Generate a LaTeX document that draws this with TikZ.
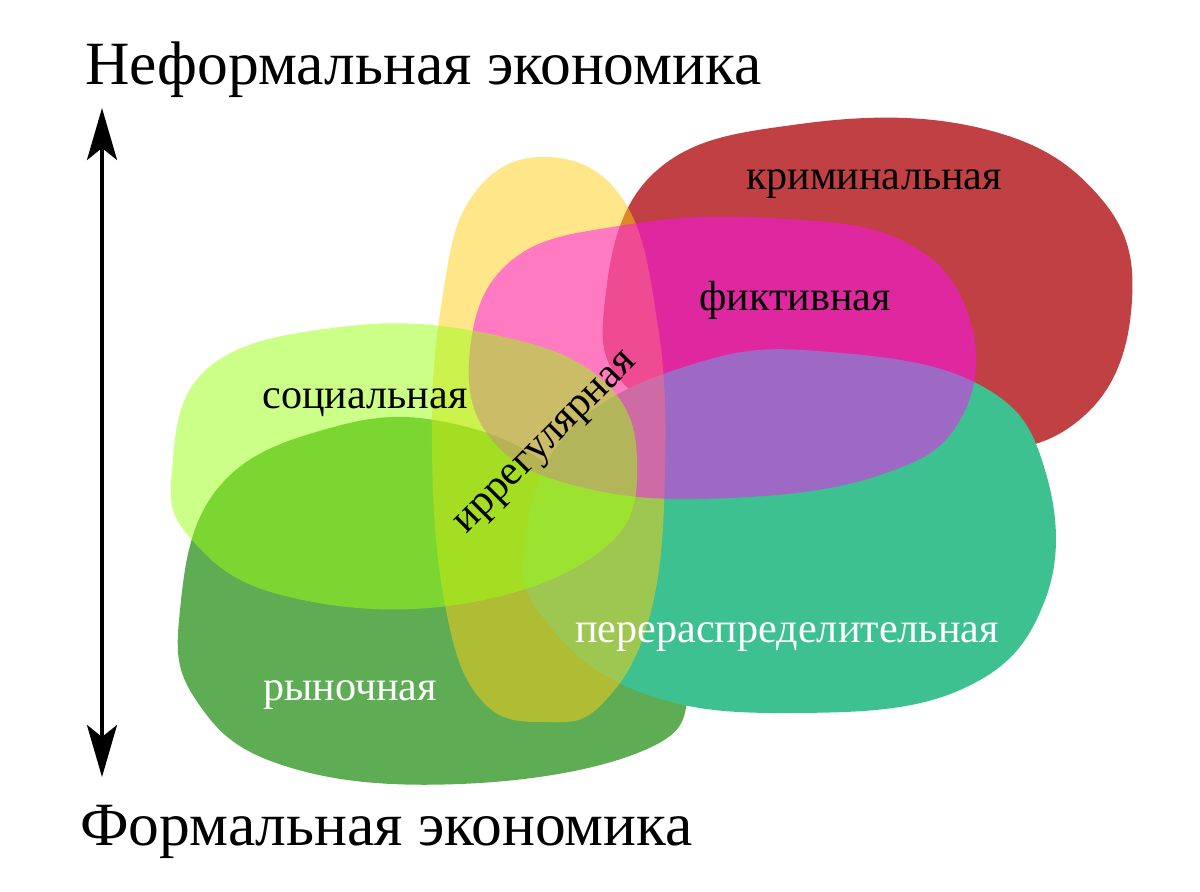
\documentclass[tikz,border=0pt]{standalone}
\usepackage{fontspec}
\setmainfont{Liberation Serif}
\usetikzlibrary{arrows.meta}

\definecolor{crimson}{RGB}{192,64,68}
\definecolor{market}{RGB}{94,173,85}
\definecolor{teal}{RGB}{62,193,144}
\definecolor{irreg}{RGB}{255,205,20}
\definecolor{fict}{RGB}{255,17,250}
\definecolor{social}{RGB}{153,255,17}

\begin{document}
\begin{tikzpicture}[x=0.02cm, y=-0.02cm, blob/.style={smooth cycle, tension=0.7}, lbl/.style={font=\fontsize{24}{29}\selectfont, inner sep=0pt, anchor=base}, title/.style={font=\fontsize{35}{42}\selectfont, inner sep=0pt, anchor=base west}]
    \useasboundingbox (0,0) rectangle (1200,892);

    \fill[crimson] plot[blob] coordinates {(605,300) (655,172) (800,124) (980,128) (1098,195) (1132,300) (1085,415) (960,455) (760,440) (630,390)};
    \fill[market] plot[blob] coordinates {(180,610) (218,488) (330,428) (450,423) (565,478) (655,590) (688,690) (640,752) (460,784) (285,766) (196,700)};
    \fill[teal] plot[blob] coordinates {(525,545) (570,430) (700,362) (830,352) (980,385) (1045,470) (1045,600) (960,690) (790,713) (640,692) (545,620)};
    \fill[irreg, fill opacity=0.5] plot[blob] coordinates {(545,157) (622,198) (657,320) (665,470) (650,615) (603,703) (548,722) (483,702) (446,610) (432,450) (442,300) (473,195)};
    \fill[fict, fill opacity=0.5] plot[blob] coordinates {(470,350) (512,260) (625,225) (770,218) (905,242) (970,320) (960,420) (880,475) (730,498) (585,488) (492,440)};
    \fill[social, fill opacity=0.5] plot[blob] coordinates {(172,470) (208,368) (340,327) (485,333) (600,378) (637,462) (602,550) (455,605) (285,596) (192,540)};

    \node[title] (informal) at (85,85) {Неформальная экономика};
    \node[title] (formal) at (80,845) {Формальная экономика};
    \coordinate (top) at (102,108);
    \coordinate (bottom) at (102,777);
    \draw[{Stealth[length=1.04cm, width=0.6cm, inset=0.24cm]}-{Stealth[length=1.04cm, width=0.6cm, inset=0.24cm]}, line width=2.2pt] (top) -- (bottom);

    \node[lbl] (crim) at (874,189) {криминальная};
    \node[lbl] (fictive) at (795,310) {фиктивная};
    \node[lbl] (soc) at (365,408) {социальная};
    \node[lbl, white] (mark) at (350,700) {рыночная};
    \node[lbl, white] (redist) at (787,642) {перераспределительная};
    \node[lbl, anchor=center, rotate=45] (irr) at (548,445) {иррегулярная};
\end{tikzpicture}
\end{document}
